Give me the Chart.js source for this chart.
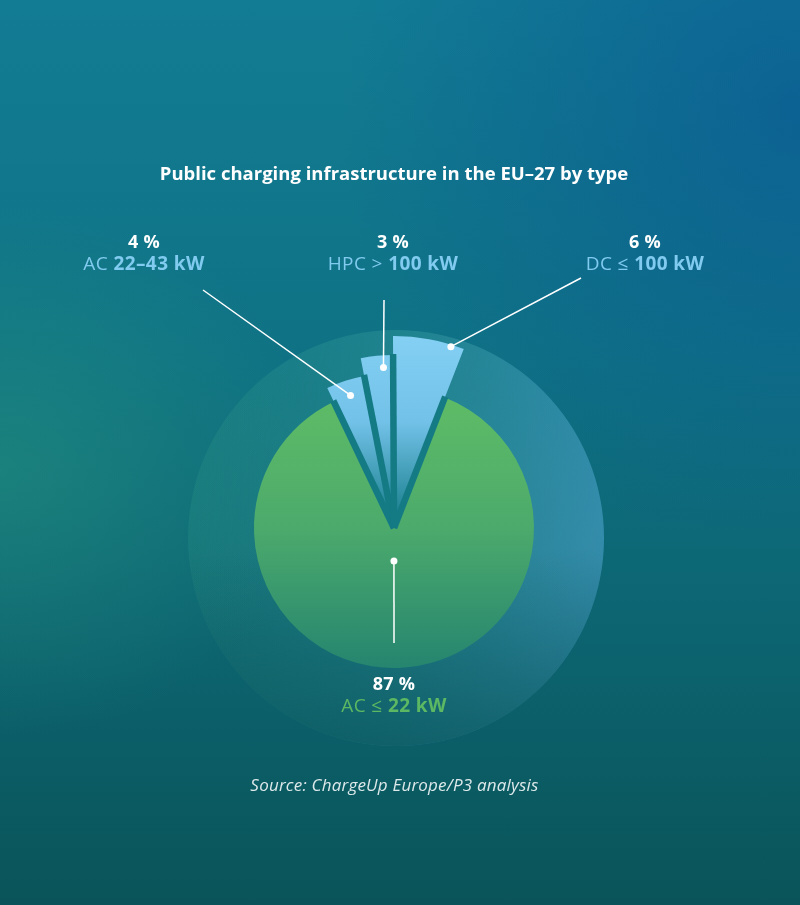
<!DOCTYPE html>
<html>
<head>
<meta charset="utf-8">
<script src="https://cdn.jsdelivr.net/npm/chart.js@4/dist/chart.umd.min.js"></script>
<style>
  html, body { margin: 0; padding: 0; }
  #page {
    position: relative;
    width: 800px;
    height: 905px;
    overflow: hidden;
    font-family: "Open Sans", "Lato", sans-serif;
    background:
      radial-gradient(ellipse 460px 380px at 0% 52%, rgba(40, 150, 125, 0.5), rgba(40, 150, 125, 0) 70%),
      radial-gradient(ellipse 640px 620px at 100% 12%, rgba(8, 80, 150, 0.55), rgba(8, 80, 150, 0) 72%),
      linear-gradient(180deg, #127c94 0%, #0f7284 40%, #0c6470 70%, #0a5459 100%);
  }
  #pie { position: absolute; left: 0; top: 0; }
  .txt { position: absolute; text-align: center; white-space: nowrap; }
  .title { left: 0; width: 788px; top: 161px; color: #fff; font-weight: 700; font-size: 18.5px; line-height: 24px; }
  .lbl { width: 300px; }
  .lbl .pct { color: #fff; font-weight: 700; font-size: 18px; line-height: 22px; letter-spacing: 0.3px; }
  .lbl .kind { font-size: 19px; line-height: 22px; letter-spacing: 0.4px; }
  .lbl .kind b { font-weight: 700; }
  .source { left: 0; width: 789px; top: 774px; color: #dde9ea; font-style: italic; font-size: 17px; line-height: 22px; letter-spacing: 0.2px; }
</style>
</head>
<body>
<div id="page">
  <canvas id="pie" width="800" height="905"></canvas>
  <div class="txt title">Public charging infrastructure in the EU–27 by type</div>
  <div id="labels"></div>
  <div class="txt source">Source: ChargeUp Europe/P3 analysis</div>
</div>
<script>
// data
const shares = [4, 3, 6, 87];
const kindPrefix = ["AC ", "HPC > ", "DC ≤ ", "AC ≤ "];
const kindPower = ["22–43 kW", "100 kW", "100 kW", "22 kW"];

// looks
const sliceFill = ["blue", "blue", "blue", "green"];
const labelColor = ["#80cbef", "#80cbef", "#80cbef", "#5cb862"];
const sliceRadius = [155, 173, 192, 140];
const labelPos = [[144, 230], [393, 230], [645, 230], [394, 672]];
const leaderFrom = [[203, 290], [384, 300], [581, 278], [394, 643]];
const dotAt = [[0.51, 0.9], [0.68, 0.93], [0.82, 0.99], [0.507, 0.235]];
const gapColor = "#147a84";
const gapWidth = 6.5;

function el(id) {
  return document.getElementById(id);
}

function centre(chart) {
  const a = chart.chartArea;
  return { x: (a.left + a.right) / 2, y: (a.top + a.bottom) / 2 };
}

function sliceColor(ctx) {
  const chart = ctx.chart;
  if (!chart.chartArea) return "#5cb862";
  const c = centre(chart);
  if (sliceFill[ctx.dataIndex] === "green") {
    const gg = chart.ctx.createLinearGradient(0, c.y - 140, 0, c.y + 140);
    gg.addColorStop(0, "#5fbd66");
    gg.addColorStop(0.5, "#4caa6c");
    gg.addColorStop(1, "#25856f");
    return gg;
  }
  const g = chart.ctx.createLinearGradient(0, c.y - 192, 0, c.y);
  g.addColorStop(0, "#84d0f4");
  g.addColorStop(0.45, "#72c1e8");
  g.addColorStop(0.85, "#2a8c9e");
  g.addColorStop(1, "#177a86");
  return g;
}

// each slice gets its own outer radius
const radiusPlugin = {
  id: "sliceRadius",
  afterDatasetsUpdate(chart) {
    chart.getDatasetMeta(0).data.forEach((arc, i) => {
      arc.outerRadius = sliceRadius[i];
    });
  },
};

// big soft disc behind the pie
const haloPlugin = {
  id: "halo",
  beforeDatasetsDraw(chart) {
    const c = centre(chart);
    const x = c.x + 2, y = c.y + 10, r = 208;
    const ctx = chart.ctx;
    ctx.save();
    ctx.beginPath();
    ctx.arc(x, y, r, 0, Math.PI * 2);
    ctx.clip();
    const h = ctx.createLinearGradient(x - r, y - r * 0.3, x + r, y + r * 0.1);
    h.addColorStop(0, "rgba(55, 165, 140, 0.18)");
    h.addColorStop(0.45, "rgba(65, 165, 165, 0.34)");
    h.addColorStop(1, "rgba(85, 170, 215, 0.55)");
    ctx.fillStyle = h;
    ctx.fillRect(x - r, y - r, r * 2, r * 2);
    const v = ctx.createLinearGradient(0, y + 10, 0, y + r);
    v.addColorStop(0, "rgba(11, 90, 98, 0)");
    v.addColorStop(1, "rgba(11, 90, 98, 0.8)");
    ctx.fillStyle = v;
    ctx.fillRect(x - r, y, r * 2, r);
    ctx.restore();
  },
};

// dark gaps between neighbouring slices, only as far as the shorter one reaches
const gapPlugin = {
  id: "gaps",
  afterDatasetsDraw(chart) {
    const arcs = chart.getDatasetMeta(0).data;
    const ctx = chart.ctx;
    ctx.save();
    ctx.strokeStyle = gapColor;
    ctx.lineWidth = gapWidth;
    ctx.lineCap = "butt";
    arcs.forEach((arc, i) => {
      const prev = arcs[(i + arcs.length - 1) % arcs.length];
      const len = Math.min(arc.outerRadius, prev.outerRadius) + 1;
      const a = arc.startAngle;
      ctx.beginPath();
      ctx.moveTo(arc.x, arc.y);
      ctx.lineTo(arc.x + len * Math.cos(a), arc.y + len * Math.sin(a));
      ctx.stroke();
    });
    ctx.restore();
  },
};

// white leader lines with a dot on the slice
const leaderPlugin = {
  id: "leaders",
  afterDatasetsDraw(chart) {
    const ctx = chart.ctx;
    ctx.save();
    ctx.strokeStyle = "#ffffff";
    ctx.fillStyle = "#ffffff";
    ctx.lineWidth = 1.5;
    chart.getDatasetMeta(0).data.forEach((arc, i) => {
      const a = arc.startAngle + dotAt[i][0] * (arc.endAngle - arc.startAngle);
      const r = dotAt[i][1] * arc.outerRadius;
      const px = arc.x + r * Math.cos(a);
      const py = arc.y + r * Math.sin(a);
      ctx.beginPath();
      ctx.moveTo(leaderFrom[i][0], leaderFrom[i][1]);
      ctx.lineTo(px, py);
      ctx.stroke();
      ctx.beginPath();
      ctx.arc(px, py, 3.5, 0, Math.PI * 2);
      ctx.fill();
    });
    ctx.restore();
  },
};

function buildLabels() {
  const box = el("labels");
  shares.forEach((v, i) => {
    const d = document.createElement("div");
    d.className = "txt lbl";
    d.style.left = labelPos[i][0] - 150 + "px";
    d.style.top = labelPos[i][1] + "px";
    d.style.color = labelColor[i];
    d.innerHTML = `<div class="pct">${v} %</div>` +
      `<div class="kind">${kindPrefix[i]}<b>${kindPower[i]}</b></div>`;
    box.appendChild(d);
  });
}

buildLabels();

new Chart(el("pie"), {
  type: "pie",
  data: {
    labels: kindPrefix.map((p, i) => p + kindPower[i]),
    datasets: [{
      data: shares,
      backgroundColor: sliceColor,
      borderWidth: 0,
    }],
  },
  options: {
    responsive: false,
    animation: false,
    events: [],
    rotation: -25.5,
    radius: 192,
    layout: { padding: { top: 151, right: 12, bottom: 0, left: 0 } },
    plugins: {
      legend: { display: false },
      tooltip: { enabled: false },
    },
  },
  plugins: [radiusPlugin, haloPlugin, gapPlugin, leaderPlugin],
});
</script>
</body>
</html>
